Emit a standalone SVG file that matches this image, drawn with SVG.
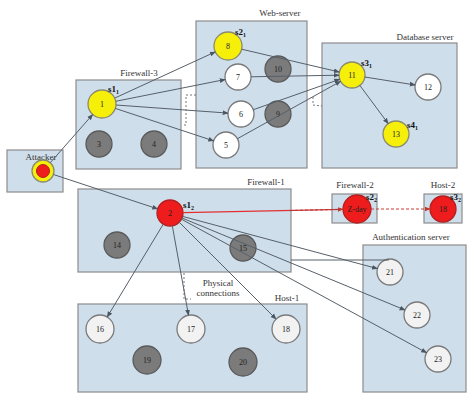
<svg xmlns="http://www.w3.org/2000/svg" width="474" height="405" viewBox="0 0 474 405">
<defs>
<marker id="arr" viewBox="0 0 10 10" refX="9" refY="5" markerWidth="6" markerHeight="6" orient="auto" markerUnits="userSpaceOnUse">
<path d="M0,1 L10,5 L0,9 z" fill="#4a5560"/>
</marker>
<marker id="arrRed" viewBox="0 0 10 10" refX="9" refY="5" markerWidth="6" markerHeight="6" orient="auto" markerUnits="userSpaceOnUse">
<path d="M0,1 L10,5 L0,9 z" fill="#c0392b"/>
</marker>
<style>
.box{fill:#cfdeeb;stroke:#8c8c8c;stroke-width:1.2}
.lbl{font-family:"Liberation Serif",serif;font-size:9px;fill:#333;text-anchor:middle}
.num{font-family:"Liberation Serif",serif;font-size:8px;fill:#222;text-anchor:middle;dominant-baseline:central}
.sl{font-family:"Liberation Serif",serif;font-size:9px;font-weight:bold;fill:#111}
.yel{fill:#f6ef0a;stroke:#8a8a70;stroke-width:1.3}
.gry{fill:#7b7b7b;stroke:#5a5a5a;stroke-width:1.3}
.wht{fill:#ffffff;stroke:#7a7a7a;stroke-width:1.3}
.lt{fill:#f2f2f2;stroke:#7a7a7a;stroke-width:1.3}
.red{fill:#ee1c1c;stroke:#b02020;stroke-width:1.3}
.e{stroke:#56606a;stroke-width:1;fill:none;marker-end:url(#arr)}
.d{stroke:#666;stroke-width:0.9;fill:none;stroke-dasharray:2,2}
</style>
</defs>

<g id="boxes">
<rect id="attacker-box" class="box" x="7" y="150" width="56" height="42"/>
<rect id="firewall3-box" class="box" x="76" y="80" width="105" height="89"/>
<rect id="webserver-box" class="box" x="196" y="21" width="111" height="147"/>
<rect id="dbserver-box" class="box" x="322" y="43" width="135" height="125"/>
<rect id="firewall1-box" class="box" x="78" y="189" width="213" height="83"/>
<rect id="firewall2-box" class="box" x="332" y="194" width="45" height="29"/>
<rect id="host2-box" class="box" x="424" y="194" width="38" height="29"/>
<rect id="auth-box" class="box" x="363" y="245" width="103" height="147"/>
<rect id="host1-box" class="box" x="78" y="304" width="229" height="88"/>
</g>

<g id="labels">
<text class="lbl" x="41" y="160">Attacker</text>
<text class="lbl" x="139" y="76">Firewall-3</text>
<text class="lbl" x="280" y="16">Web-server</text>
<text class="lbl" x="425" y="40">Database server</text>
<text class="lbl" x="266" y="185">Firewall-1</text>
<text class="lbl" x="355" y="188">Firewall-2</text>
<text class="lbl" x="443" y="188">Host-2</text>
<text class="lbl" x="411" y="240">Authentication server</text>
<text class="lbl" x="287" y="301">Host-1</text>
<text class="lbl" x="218" y="286">Physical</text>
<text class="lbl" x="218" y="296">connections</text>
</g>

<g id="n-attacker"><circle class="yel" cx="43" cy="171" r="11"/><circle cx="43" cy="171" r="6.5" fill="#ee1c1c" stroke="#b02020"/></g>
<g id="n1"><circle class="yel" cx="102" cy="104" r="14"/><text class="num" x="102" y="104">1</text><text class="sl" x="108" y="92">s1<tspan font-size="6" dy="2">1</tspan></text></g>
<g id="n3"><circle class="gry" cx="99" cy="144" r="13"/><text class="num" x="99" y="144">3</text></g>
<g id="n4"><circle class="gry" cx="154" cy="144" r="13"/><text class="num" x="154" y="144">4</text></g>
<g id="n8"><circle class="yel" cx="228" cy="46" r="14"/><text class="num" x="228" y="46">8</text><text class="sl" x="235" y="35">s2<tspan font-size="6" dy="2">1</tspan></text></g>
<g id="n7"><circle class="wht" cx="238" cy="77" r="13"/><text class="num" x="238" y="77">7</text></g>
<g id="n10"><circle class="gry" cx="278" cy="69" r="13"/><text class="num" x="278" y="69" font-size="6">10</text></g>
<g id="n6"><circle class="wht" cx="241" cy="114" r="13"/><text class="num" x="241" y="114">6</text></g>
<g id="n9"><circle class="gry" cx="278" cy="114" r="13"/><text class="num" x="278" y="114">9</text></g>
<g id="n5"><circle class="wht" cx="226" cy="145" r="13"/><text class="num" x="226" y="145">5</text></g>
<g id="n11"><circle class="yel" cx="352" cy="75" r="13"/><text class="num" x="352" y="75">11</text><text class="sl" x="361" y="66">s3<tspan font-size="6" dy="2">1</tspan></text></g>
<g id="n12"><circle class="wht" cx="428" cy="87" r="13"/><text class="num" x="428" y="87">12</text></g>
<g id="n13"><circle class="yel" cx="396" cy="134" r="13"/><text class="num" x="396" y="134">13</text><text class="sl" x="407" y="128">s4<tspan font-size="6" dy="2">1</tspan></text></g>
<g id="n2"><circle class="red" cx="170" cy="213" r="13"/><text class="num" x="170" y="213">2</text><text class="sl" x="183" y="208">s1<tspan font-size="6" dy="2">2</tspan></text></g>
<g id="n14"><circle class="gry" cx="117" cy="245" r="13"/><text class="num" x="117" y="245">14</text></g>
<g id="n15"><circle class="gry" cx="243" cy="248" r="13"/><text class="num" x="243" y="248">15</text></g>
<g id="nzday"><circle class="red" cx="357" cy="209" r="14"/><text class="num" x="357" y="209">Z-day</text><text class="sl" x="366" y="200" font-size="8">s2<tspan font-size="6" dy="2">2</tspan></text></g>
<g id="n18b"><circle class="red" cx="443" cy="209" r="13"/><text class="num" x="443" y="209">18</text><text class="sl" x="450" y="200" font-size="8">s3<tspan font-size="6" dy="2">2</tspan></text></g>
<g id="n21"><circle class="lt" cx="390" cy="272" r="13"/><text class="num" x="390" y="272">21</text></g>
<g id="n22"><circle class="lt" cx="417" cy="315" r="13"/><text class="num" x="417" y="315">22</text></g>
<g id="n23"><circle class="lt" cx="438" cy="359" r="13"/><text class="num" x="438" y="359">23</text></g>
<g id="n16"><circle class="lt" cx="100" cy="329" r="14"/><text class="num" x="100" y="329">16</text></g>
<g id="n17"><circle class="lt" cx="191" cy="329" r="14"/><text class="num" x="191" y="329">17</text></g>
<g id="n18a"><circle class="lt" cx="286" cy="329" r="14"/><text class="num" x="286" y="329">18</text></g>
<g id="n19"><circle class="gry" cx="147" cy="360" r="14"/><text class="num" x="147" y="360">19</text></g>
<g id="n20"><circle class="gry" cx="243" cy="362" r="14"/><text class="num" x="243" y="362">20</text></g>

<g id="connectors">
<line class="e" x1="50.3" y1="162.7" x2="92.7" y2="114.5"/>
<line class="e" x1="53.4" y1="174.5" x2="157.7" y2="208.9"/>
<line class="e" x1="114.7" y1="98.1" x2="215.3" y2="51.9"/>
<line class="e" x1="115.7" y1="101.3" x2="225.2" y2="79.5"/>
<line class="e" x1="116" y1="105" x2="228" y2="113.1"/>
<line class="e" x1="115.3" y1="108.4" x2="213.7" y2="140.9"/>
<line class="e" x1="241.6" y1="49.2" x2="339.3" y2="72"/>
<line class="e" x1="251" y1="76.8" x2="339" y2="75.2"/>
<line class="e" x1="253.3" y1="109.7" x2="339.7" y2="79.3"/>
<line class="e" x1="237.4" y1="138.7" x2="340.6" y2="81.3"/>
<line class="e" x1="364.8" y1="77" x2="415.2" y2="85"/>
<line class="e" x1="359.8" y1="85.4" x2="388.2" y2="123.6"/>
<line class="e" x1="163.3" y1="224.1" x2="107.2" y2="317"/>
<line class="e" x1="172.3" y1="225.8" x2="188.5" y2="315.2"/>
<line class="e" x1="179.2" y1="222.2" x2="276.1" y2="319.1"/>
<line class="e" x1="182.6" y1="216.4" x2="377.4" y2="268.6"/>
<line class="e" x1="182" y1="218" x2="405" y2="310"/>
<line class="e" x1="181.4" y1="219.2" x2="426.6" y2="352.8"/>
<line x1="291" y1="260" x2="389" y2="260" stroke="#56606a" stroke-width="1"/>
<line x1="183" y1="212.7" x2="343" y2="209.3" stroke="#e23030" stroke-width="1.2" marker-end="url(#arrRed)"/>
<line x1="290" y1="210.5" x2="340" y2="209.4" stroke="#9a4040" stroke-width="1" stroke-dasharray="3,2"/>
<line x1="371" y1="209" x2="430" y2="209" stroke="#d03a3a" stroke-width="1.1" stroke-dasharray="3,2" marker-end="url(#arrRed)"/>
<path class="d" d="M196,95 L186,95 L186,125 L182,125"/>
<path class="d" d="M313,97 L313,105 L322,106"/>
<path class="d" d="M184,273 L184,299 L191,299"/>
</g>
</svg>
